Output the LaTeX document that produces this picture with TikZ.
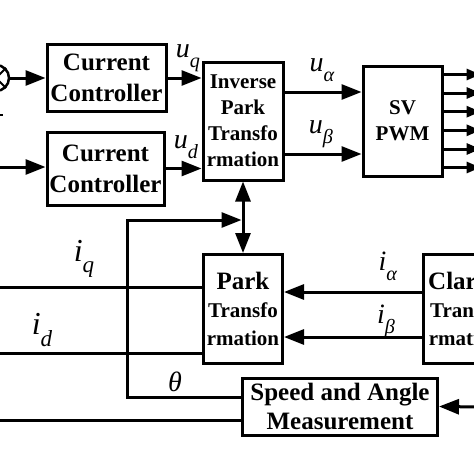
\documentclass[tikz,border=0pt]{standalone}
\usepackage{fontspec}
\setmainfont{Liberation Serif}
\usetikzlibrary{arrows.meta}
\newcommand\lab[2]{\textit{#1}\raisebox{-0.36em}{\scalebox{0.72}{\textit{#2}}}}
\begin{document}
\begin{tikzpicture}[x=1pt,y=-1pt,
  blk/.style={draw, line width=3pt, inner sep=0pt, align=center, font=\bfseries\fontsize{21}{26}\selectfont},
  bigblk/.style={blk, font=\bfseries\fontsize{25}{31}\selectfont},
  wire/.style={line width=3pt},
  tip/.tip={Triangle[length=20pt,width=15pt]},
  arr/.style={line width=3pt,-tip},
  lbl/.style={inner sep=0pt, font=\fontsize{28}{28}\selectfont},
  biglbl/.style={lbl, font=\fontsize{32}{32}\selectfont}]
\useasboundingbox (0,0) rectangle (474,474);
\clip (0,0) rectangle (474,474);
% blocks
\node[bigblk, minimum width=119pt, minimum height=67pt] (cc1) at (106.5,78) {Current\\Controller};
\node[bigblk, minimum width=117pt, minimum height=73pt] (cc2) at (105.5,168.5) {Current\\Controller};
\node[blk, minimum width=80pt, minimum height=118pt] (ip) at (243,121) {Inverse\\Park\\Transfo\\rmation};
\node[blk, minimum width=79pt, minimum height=110pt] (sv) at (402.5,121) {SV\\PWM};
\node[blk, minimum width=79pt, minimum height=109pt, font=\bfseries\fontsize{21}{28}\selectfont] (park) at (243,309) {{\fontsize{25}{29}\selectfont Park}\\Transfo\\rmation};
\node[blk, minimum width=84pt, minimum height=109pt, font=\bfseries\fontsize{21}{28}\selectfont] (cl) at (465,309) {{\fontsize{25}{29}\selectfont Clarke}\\Transfo\\rmation};
\node[bigblk, minimum width=195pt, minimum height=57pt, font=\bfseries\fontsize{25}{29}\selectfont] (sp) at (340,406.5) {Speed and Angle\\Measurement};
% summing junction
\node[draw, circle, line width=2.5pt, minimum size=26pt, inner sep=0pt] (sum) at (-4,78) {};
\draw[line width=2pt] (sum.north west) -- (sum.south east) (sum.north east) -- (sum.south west);
\draw[line width=2pt] (0,115) -- (3,115);
% forward path
\draw[arr] (sum.east) -- (cc1.west);
\coordinate (c2in) at (0,167);
\draw[arr] (c2in) -- (c2in -| cc2.west);
\draw[arr] (cc1.east) -- (cc1.east -| ip.west);
\draw[arr] (cc2.east) -- (cc2.east -| ip.west);
\draw[arr] ([yshift=29pt]ip.east) -- ([yshift=29pt]ip.east -| sv.west);
\draw[arr] ([yshift=-33pt]ip.east) -- ([yshift=-33pt]ip.east -| sv.west);
\foreach \s in {46.5,28,9.3,-9.3,-28,-46.5}
  \draw[line width=3pt,-{Triangle[length=14pt,width=11pt]}] ([yshift=\s pt]sv.east) -- ++(37,0);
% park <-> inverse park
\draw[line width=3pt,tip-tip] (ip.south) -- (park.north);
% theta path
\coordinate (th) at (127,397);
\coordinate (tl) at (127,220);
\draw[arr, shorten >=1.5pt] (th -| sp.west) -- (th) -- (tl) -- (tl -| ip.south);
% feedback currents
\coordinate (iqs) at (0,287);
\coordinate (ids) at (0,353);
\coordinate (bs) at (0,420);
\draw[wire] (iqs) -- (iqs -| park.west);
\draw[wire] (ids) -- (ids -| park.west);
\draw[wire] (bs) -- (bs -| sp.west);
\draw[arr] ([yshift=17pt]cl.west) -- ([yshift=17pt]cl.west -| park.east);
\draw[arr] ([yshift=-28pt]cl.west) -- ([yshift=-28pt]cl.west -| park.east);
\coordinate (spin) at (482,407);
\draw[arr] (spin) -- (sp.east);
% labels
\node[lbl] (luq) at (188,58) {\lab{u}{q}};
\node[lbl] (lud) at (186,147) {\lab{u}{d}};
\node[lbl] (lua) at (322,70) {\lab{u}{α}};
\node[lbl] (lub) at (321,134) {\lab{u}{β}};
\node[biglbl] (liq) at (84,259) {\lab{i}{q}};
\node[biglbl] (lid) at (42,330) {\lab{i}{d}};
\node[lbl] (lth) at (175,382) {\textit{θ}};
\node[lbl] (lia) at (388,266) {\lab{i}{α}};
\node[lbl] (lib) at (386,321) {\lab{i}{β}};
\end{tikzpicture}
\end{document}
